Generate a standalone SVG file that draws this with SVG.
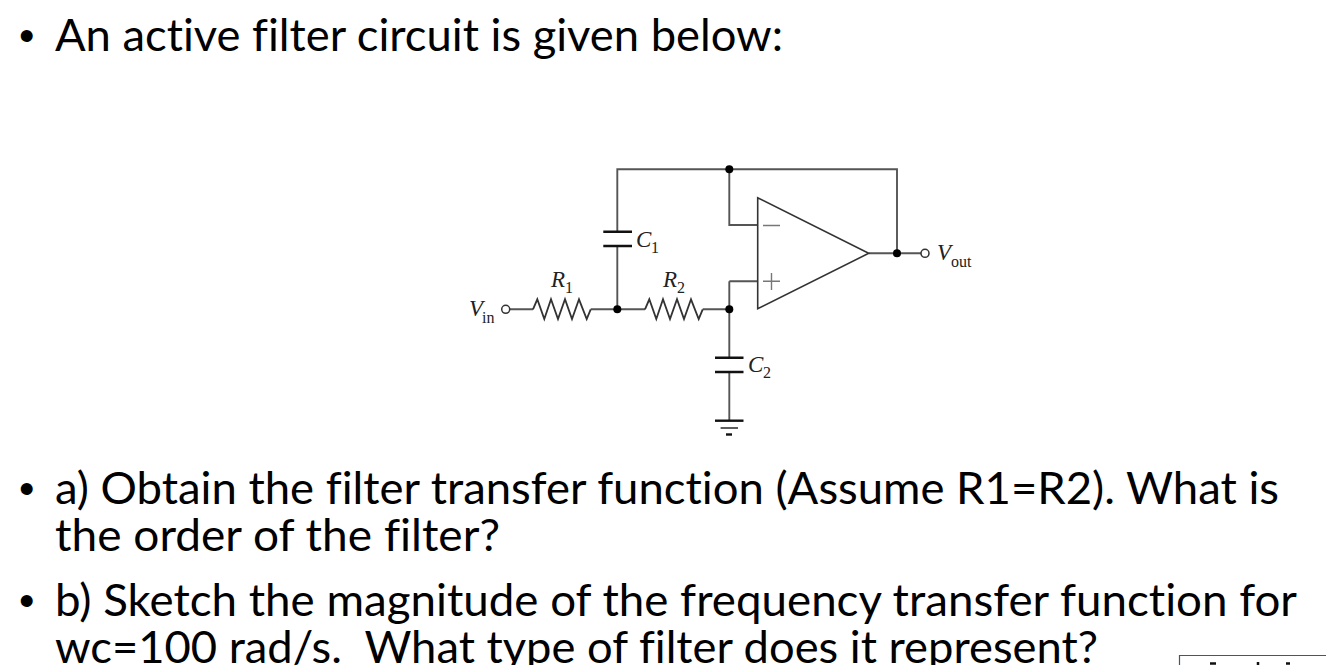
<svg xmlns="http://www.w3.org/2000/svg" width="1326" height="665" viewBox="0 0 1326 665">
<style>
.t{font-family:"Lato","Liberation Sans",sans-serif;font-size:44px;fill:#000;font-variant-ligatures:none;white-space:pre}
.b{font-family:"Liberation Sans",sans-serif;font-size:44px;fill:#000}
.w{fill:none;stroke:#555;stroke-width:1.9}
.r{fill:none;stroke:#333;stroke-width:1.8}
.p{fill:none;stroke:#111;stroke-width:2.4}
.o{fill:#fff;stroke:#333;stroke-width:1.5}
.s{font-family:"Liberation Serif",serif;font-size:23px;font-style:italic;fill:#222}
.u{font-family:"Liberation Serif",serif;font-size:16px;fill:#222}
</style>
<defs><circle id="j" r="4" fill="#000"/></defs>
<rect width="1326" height="665" fill="#fff"/>
<g id="text">
<text class="b" x="19" y="51" font-size="44">•</text>
<text class="t" x="55" y="51" textLength="728" lengthAdjust="spacingAndGlyphs">An active filter circuit is given below:</text>
<text class="b" x="19" y="504">•</text>
<text class="t" x="55" y="504" textLength="1224" lengthAdjust="spacingAndGlyphs">a) Obtain the filter transfer function (Assume R1=R2). What is</text>
<text class="t" x="55" y="551" textLength="445" lengthAdjust="spacingAndGlyphs">the order of the filter?</text>
<text class="b" x="19" y="616">•</text>
<text class="t" x="55" y="616" textLength="1242" lengthAdjust="spacingAndGlyphs">b) Sketch the magnitude of the frequency transfer function for</text>
<text class="t" x="55" y="663" textLength="1043" lengthAdjust="spacingAndGlyphs" xml:space="preserve">wc=100 rad/s.  What type of filter does it represent?</text>
</g>
<g id="connectors">
<path class="w" d="M617.3 231.7V169.3H897V253.3"/>
<path class="w" d="M729.3 169.3V225H757.7"/>
<path class="w" d="M617.3 246V309.3"/>
<path class="w" d="M510 309.3H533M590.7 309.3H645M702.7 309.3H729.3"/>
<path class="w" d="M729.3 281.3H757.7M729.3 281.3V357.7"/>
<path class="w" d="M729.3 372V420.7"/>
<path class="w" d="M868.7 253.3H921"/>
</g>
<g id="R1"><path class="r" d="M533 309.3L537.3 299.3L544.3 319L551 299.3L558 319L565 299.3L572 319L579 299.3L586.7 319L590.7 309.3"/>
<text class="s" x="551" y="287">R</text><text class="u" x="565" y="293">1</text></g>
<g id="R2"><path class="r" d="M645 309.3L649.3 299.3L656.3 319L663 299.3L670 319L677 299.3L684 319L691 299.3L698.7 319L702.7 309.3"/>
<text class="s" x="663" y="287">R</text><text class="u" x="677" y="293">2</text></g>
<g id="C1"><path class="p" d="M603.3 231.7H632M603.3 246H632"/>
<text class="s" x="636" y="247">C</text><text class="u" x="651" y="253">1</text></g>
<g id="C2"><path class="p" d="M715 357.7H743.5M715 372H743.5"/>
<text class="s" x="748" y="372">C</text><text class="u" x="763" y="378">2</text></g>
<g id="GND"><path class="p" d="M715 420.7H743.5"/><path class="w" stroke-width="2" d="M720.6 428H738"/><path class="p" d="M726 434.5H732"/></g>
<g id="opamp"><path fill="none" stroke="#333" stroke-width="1.6" d="M757.7 197.7V308.7L868.7 253.3Z"/>
<path fill="none" stroke="#777" stroke-width="1.4" d="M763 225.5H780M763 281.3H780M771.5 273V290"/></g>
<g id="Vin"><circle class="o" cx="505.7" cy="309.3" r="4"/><text class="s" x="469" y="316">V</text><text class="u" x="482" y="323">in</text></g>
<g id="Vout"><circle class="o" cx="925" cy="253.3" r="4"/><text class="s" x="937" y="260">V</text><text class="u" x="951" y="267">out</text></g>
<g id="junctions"><use href="#j" x="729.3" y="169.3"/><use href="#j" x="617.3" y="309.3"/><use href="#j" x="729.3" y="309.3"/><use href="#j" x="897" y="253.3"/></g>
<g id="corner"><path fill="none" stroke="#4a5568" stroke-width="1.2" d="M1179.5 665V655.5H1326"/>
<path stroke="#111" stroke-width="2.5" d="M1210 663.5H1216M1258 662V665M1286 663.5H1290"/></g>
</svg>
